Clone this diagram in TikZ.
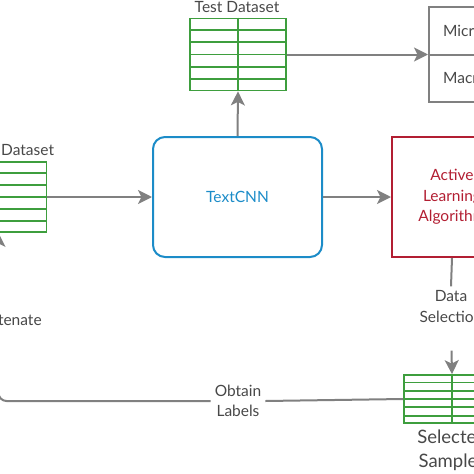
\documentclass[tikz,border=0pt]{standalone}
\usepackage{fontspec}
\setmainfont{Lato}
\usepackage{tikz}
\usetikzlibrary{positioning}
\usetikzlibrary{calc}
\usetikzlibrary{arrows.meta}
\definecolor{tablegreen}{RGB}{62,158,62}
\definecolor{cnnblue}{RGB}{28,140,200}
\definecolor{alred}{RGB}{178,30,50}
\definecolor{linegray}{RGB}{128,128,128}
\definecolor{textgray}{RGB}{72,72,72}
\tikzset{>={Stealth[length=14pt,width=14pt,inset=3.5pt]}}
\tikzset{
  datatable/.style={draw=tablegreen, line width=1.8pt, minimum width=96pt, inner sep=0pt},
  flow/.style={->, draw=linegray, line width=2pt},
  gline/.style={draw=linegray, line width=2pt},
  lbl/.style={text=textgray, font=\fontsize{15.5}{20.5}\selectfont, align=center},
}

\begin{document}
\begin{tikzpicture}[x=1pt,y=-1pt]
\useasboundingbox (0,0) rectangle (474,474);
\clip (0,0) rectangle (474,474);

% --- Data tables ---
\node[datatable, minimum height=70pt] (train) at (-1.5,197) {};
\node[datatable, minimum height=72pt] (test) at (238,54.5) {};
\node[datatable, minimum height=48pt] (sel) at (452,399) {};

\foreach \t in {train, test, sel}{
  \draw[tablegreen, line width=1.8pt] (\t.north) -- (\t.south);
  \foreach \i in {1,...,5}{
    \draw[tablegreen, line width=1.8pt]
      ($(\t.north west)!\i/6!(\t.south west)$) -- ($(\t.north east)!\i/6!(\t.south east)$);
  }
}

% --- Table labels ---
\node[lbl, anchor=west, inner sep=0pt] at (1,150) {Dataset};
\node[lbl, anchor=base] at (237,12.5) {Test Dataset};
\node[lbl, font=\fontsize{18.5}{24}\selectfont] at (452,450) {Selected\\Samples};

% --- Model and selection boxes ---
\node[draw=cnnblue, line width=2pt, rounded corners=12pt, minimum width=169pt, minimum height=120pt,
  text=cnnblue, font=\fontsize{15.5}{20}\selectfont] (cnn) at (237.5,197) {TextCNN};
\node[draw=alred, line width=2pt, minimum width=120pt, minimum height=120pt,
  text=alred, align=center, font=\fontsize{15.5}{20.5}\selectfont] (al) at (452,197) {Active\\Learning\\Algorithm};

% --- Metric box ---
\node[draw=linegray, line width=2pt, minimum width=110pt, minimum height=95pt, anchor=west] (metric) at (428,54.5) {};
\draw[gline] (metric.west) -- (metric.east);
\node[lbl, anchor=west, inner sep=0pt] at (443,31) {Micro};
\node[lbl, anchor=west, inner sep=0pt] at (443,78) {Macro};

% --- Connectors ---
\draw[flow] (train.east) -- (cnn.west);
\draw[flow] (cnn.north) -- (test.south);
\draw[flow] (test.east) -- (metric.west);
\draw[flow] (cnn.east) -- (al.west);

\node[lbl, inner sep=4pt] (dsel) at (451,306.5) {Data\\Selection};
\draw[gline] (al.south) -- (dsel.north);
\draw[flow, shorten <=24pt] (dsel.south) -- (sel.north);

\node[lbl, inner sep=4pt] (obt) at (238,401) {Obtain\\Labels};
\draw[gline] (sel.west) -- (obt.east);
\draw[flow, rounded corners=8pt] (obt.west) -| (train.south)
  node[pos=0.74, lbl, fill=white, inner sep=3pt] {Concatenate};

\end{tikzpicture}
\end{document}
